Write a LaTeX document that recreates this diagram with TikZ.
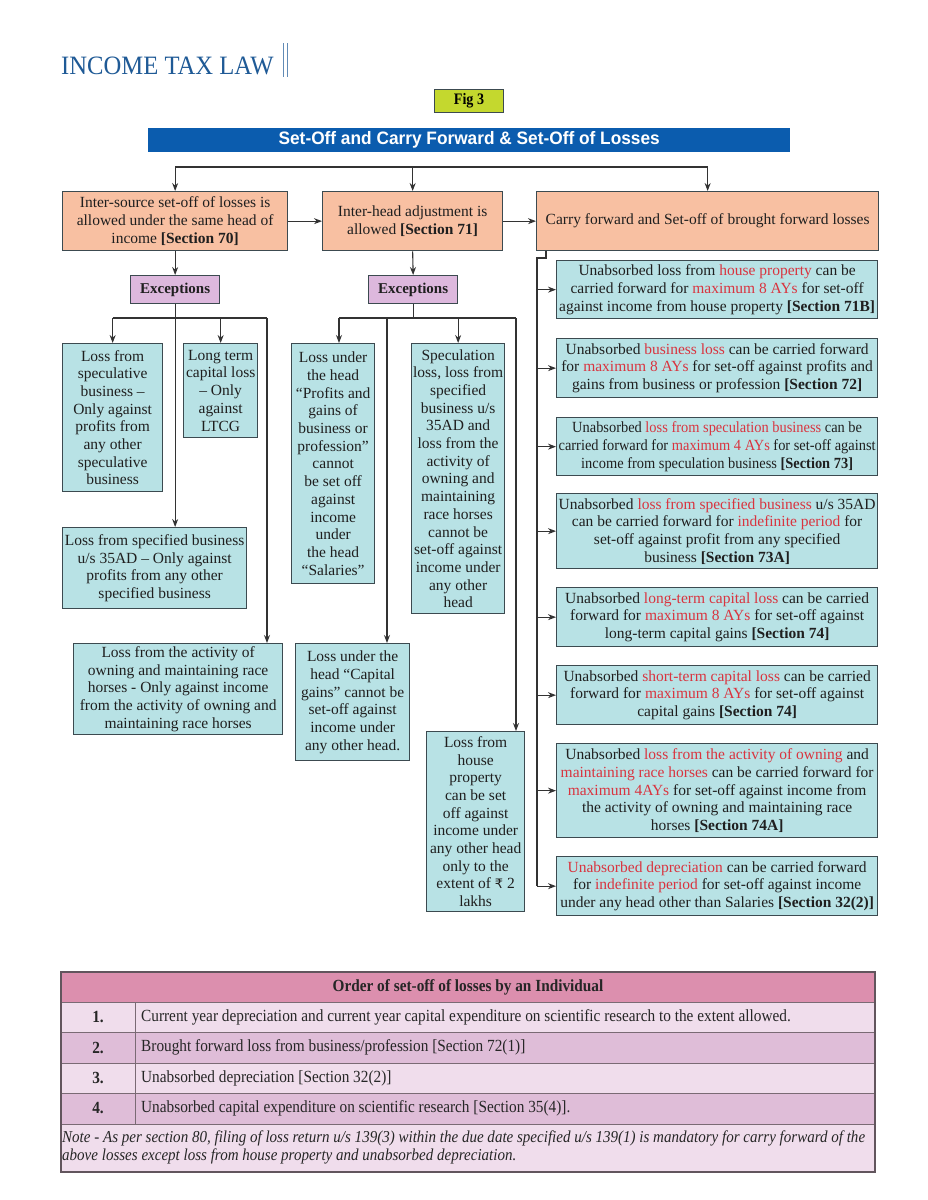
\documentclass[tikz,border=0pt]{standalone}
\usepackage{fontspec}
\setmainfont{Liberation Serif}
\newfontfamily\condsans[FakeStretch=0.96]{Liberation Sans}
\newfontfamily\condserif[FakeStretch=0.9]{Liberation Serif}
\newfontfamily\narrowserif[FakeStretch=0.93]{Liberation Serif}
\newfontfamily\figserif[FakeStretch=0.88]{Liberation Serif}
\newfontfamily\headserif[FakeStretch=0.93]{Liberation Serif}
\newfontfamily\rupeefont{DejaVu Sans}
\usetikzlibrary{arrows.meta}
\definecolor{tealbox}{HTML}{B8E2E5}
\definecolor{orangebox}{HTML}{F8C0A2}
\definecolor{lavbox}{HTML}{DDB8DD}
\definecolor{titleblue}{HTML}{0B5CAE}
\definecolor{figgreen}{HTML}{C4D82E}
\definecolor{edge}{HTML}{3C4A50}
\definecolor{hred}{HTML}{D9343F}
\definecolor{headblue}{HTML}{1F5A96}
\definecolor{tabhead}{HTML}{DC8FAE}
\definecolor{tablight}{HTML}{F0DDEC}
\definecolor{tabdark}{HTML}{DFBDD8}
\definecolor{tabline}{HTML}{7A6A74}
\newcommand\rd[1]{\textcolor{hred}{#1}}
\newcommand\bx[7]{\node[#2, anchor=north west, minimum width={(#5-#3)*1pt}, minimum height={(#6-#4)*1pt}] (#1) at (#3,#4) {#7};}
\tikzset{
  box/.style={draw=edge, line width=1.3pt, inner sep=1.5pt, align=center, text=black!88,
    font=\fontsize{15.5}{17.7}\selectfont},
  tbox/.style={box, fill=tealbox},
  obox/.style={box, fill=orangebox},
  lbox/.style={box, fill=lavbox, font=\bfseries\fontsize{15}{17}\selectfont},
  conn/.style={draw=black!80, line width=1.1pt},
  arr/.style={conn, -{Stealth[length=8pt,width=6pt]}},
  tabtext/.style={inner sep=0pt, anchor=west, text=black!85, font=\condserif\fontsize{17}{19}\selectfont},
  tabnum/.style={tabtext, anchor=center, font=\condserif\bfseries\fontsize{17}{19}\selectfont},
}
\begin{document}
\begin{tikzpicture}[x=1pt,y=-1pt]
\useasboundingbox (0,0) rectangle (927,1200);
\fill[white] (0,0) rectangle (927,1200);

% header
\node[anchor=south west, inner sep=0pt, text=headblue, font=\headserif\fontsize{26.5}{30}\selectfont] (hdr) at (61,75.5) {INCOME TAX LAW};
\draw[headblue!70, line width=0.8pt] (283,43) -- (283,77);
\draw[headblue!70, line width=0.8pt] (287,43) -- (287,77);

% fig label and title
\node[draw=edge, line width=1pt, fill=figgreen, anchor=north west, minimum width=69pt, minimum height=23pt, inner sep=0pt,
  font=\figserif\bfseries\fontsize{16}{18}\selectfont] (fig) at (434,89) {Fig 3};
\node[fill=titleblue, anchor=north west, minimum width=642pt, minimum height=24pt, inner sep=0pt, text=white,
  font=\condsans\bfseries\fontsize{18}{20}\selectfont] (title) at (148,128) {Set-Off and Carry Forward \& Set-Off of Losses};

% main boxes
\bx{A}{obox}{62}{191}{287}{250}{Inter-source set-off of losses is\\allowed under the same head of\\income \textbf{[Section 70]}}
\bx{B}{obox}{322}{191}{502}{250}{Inter-head adjustment is\\allowed \textbf{[Section 71]}}
\bx{C}{obox}{536}{191}{878}{250}{Carry forward and Set-off of brought forward losses}

\bx{E1}{lbox}{130}{275}{219}{303}{Exceptions}
\bx{E2}{lbox}{368}{275}{457}{303}{Exceptions}

\bx{L1}{tbox}{62}{343}{162}{491}{Loss from\\speculative\\business --\\Only against\\profits from\\any other\\speculative\\business}
\bx{L2}{tbox}{183}{343}{257}{437}{Long term\\capital loss\\-- Only\\against\\LTCG}
\bx{L3}{tbox}{62}{527}{246}{608}{Loss from specified business\\u/s 35AD -- Only against\\profits from any other\\specified business}
\bx{L4}{tbox}{73}{643}{282}{734}{Loss from the activity of\\owning and maintaining race\\horses - Only against income\\from the activity of owning and\\maintaining race horses}

\bx{M1}{tbox}{291}{343}{374}{583}{Loss under\\the head\\“Profits and\\gains of\\business or\\profession”\\cannot\\be set off\\against\\income\\under\\the head\\“Salaries”}
\bx{M2}{tbox}{411}{343}{504}{613}{Speculation\\loss, loss from\\specified\\business u/s\\35AD and\\loss from the\\activity of\\owning and\\maintaining\\race horses\\cannot be\\set-off against\\income under\\any other\\head}
\bx{M3}{tbox}{295}{643}{409}{760}{Loss under the\\head “Capital\\gains” cannot be\\set-off against\\income under\\any other head.}
\bx{M4}{tbox}{426}{731}{524}{911}{Loss from\\house\\property\\can be set\\off against\\income under\\any other head\\only to the\\extent of {\rupeefont\fontsize{13}{15}\selectfont ₹} 2\\lakhs}

\bx{R1}{tbox}{556}{260}{877}{318}{Unabsorbed loss from \rd{house property} can be\\carried forward for \rd{maximum 8 AYs} for set-off\\against income from house property \textbf{[Section 71B]}}
\bx{R2}{tbox}{556}{338}{877}{397}{Unabsorbed \rd{business loss} can be carried forward\\for \rd{maximum 8 AYs} for set-off against profits and\\gains from business or profession \textbf{[Section 72]}}
\bx{R3}{tbox, font=\narrowserif\fontsize{15.5}{17.7}\selectfont}{556}{417}{877}{475}{Unabsorbed \rd{loss from speculation business} can be\\carried forward for \rd{maximum 4 AYs} for set-off against\\income from speculation business \textbf{[Section 73]}}
\bx{R4}{tbox}{556}{493}{877}{568}{Unabsorbed \rd{loss from specified business} u/s 35AD\\can be carried forward for \rd{indefinite period} for\\set-off against profit from any specified\\business \textbf{[Section 73A]}}
\bx{R5}{tbox}{556}{587}{877}{646}{Unabsorbed \rd{long-term capital loss} can be carried\\forward for \rd{maximum 8 AYs} for set-off against\\long-term capital gains \textbf{[Section 74]}}
\bx{R6}{tbox}{556}{665}{877}{724}{Unabsorbed \rd{short-term capital loss} can be carried\\forward for \rd{maximum 8 AYs} for set-off against\\capital gains \textbf{[Section 74]}}
\bx{R7}{tbox}{556}{743}{877}{837}{Unabsorbed \rd{loss from the activity of owning} and\\\rd{maintaining race horses} can be carried forward for\\\rd{maximum 4AYs} for set-off against income from\\the activity of owning and maintaining race\\horses \textbf{[Section 74A]}}
\bx{R8}{tbox}{556}{856}{877}{915}{\rd{Unabsorbed depreciation} can be carried forward\\for \rd{indefinite period} for set-off against income\\under any head other than Salaries \textbf{[Section 32(2)]}}

% top connectors
\path (A.north) ++(0,-24) coordinate (topL);
\path (C.north) ++(0,-24) coordinate (topR);
\draw[conn] (topL) -- (topR);
\draw[arr] (topL) -- (A.north);
\draw[arr] (B.north |- topL) -- (B.north);
\draw[arr] (topR) -- (C.north);
\draw[arr] (A.east) -- (B.west);
\draw[arr] (B.east) -- (C.west);
\draw[arr] (A.south) -- (E1.north);
\draw[arr] (B.south) -- (E2.north);

% left exceptions
\coordinate (e1r) at (267,318);
\draw[conn] (L1.north |- e1r) -- (e1r);
\draw[arr] (L1.north |- e1r) -- (L1.north);
\draw[arr] (L2.north |- e1r) -- (L2.north);
\draw[arr] (E1.south) -- (E1.south |- L3.north);
\draw[arr] (e1r) -- (e1r |- L4.north);

% middle exceptions
\coordinate (e2r) at (516,318);
\coordinate (e2m) at (387,318);
\coordinate (e2l) at (339,318);
\draw[conn] (E2.south) -- (E2.south |- e2r);
\draw[conn] (e2l) -- (e2r);
\draw[arr] (e2l) -- (e2l |- M1.north);
\draw[arr] (M2.north |- e2r) -- (M2.north);
\draw[arr] (e2m) -- (e2m |- M3.north);
\draw[arr] (e2r) -- (e2r |- M4.north);

% right spine
\coordinate (cj) at (546,258);
\coordinate (sp) at (537,258);
\draw[conn] (cj |- C.south) -- (cj) -- (sp) -- (sp |- R8.west);
\foreach \r in {R1,R2,R3,R4,R5,R6,R7,R8}{
  \draw[arr] (sp |- \r.west) -- (\r.west);
}

% table
\fill[tabhead] (61,972) rectangle (875,1002);
\fill[tablight] (61,1002) rectangle (875,1032);
\fill[tabdark] (61,1032) rectangle (875,1063);
\fill[tablight] (61,1063) rectangle (875,1093);
\fill[tabdark] (61,1093) rectangle (875,1124);
\fill[tablight] (61,1124) rectangle (875,1172);
\foreach \yy in {1002,1032,1063,1093,1124}{
  \draw[tabline, line width=1pt] (61,\yy) -- (875,\yy);
}
\draw[tabline, line width=1pt] (135,1002) -- (135,1124);
\draw[tabline!80!black, line width=1.3pt] (61,972) rectangle (875,1172);

\node[tabnum] (th) at (468,987) {Order of set-off of losses by an Individual};
\node[tabnum] (n1) at (98,1017) {1.};
\node[tabnum] (n2) at (98,1047.5) {2.};
\node[tabnum] (n3) at (98,1078) {3.};
\node[tabnum] (n4) at (98,1108.5) {4.};
\node[tabtext] (t1) at (141,1017) {Current year depreciation and current year capital expenditure on scientific research to the extent allowed.};
\node[tabtext] (t2) at (141,1047.5) {Brought forward loss from business/profession [Section 72(1)]};
\node[tabtext] (t3) at (141,1078) {Unabsorbed depreciation [Section 32(2)]};
\node[tabtext] (t4) at (141,1108.5) {Unabsorbed capital expenditure on scientific research [Section 35(4)].};
\node[tabtext, anchor=north west, align=left, font=\condserif\itshape\fontsize{16.7}{18}\selectfont] (note) at (62,1131) {Note - As per section 80, filing of loss return u/s 139(3) within the due date specified u/s 139(1) is mandatory for carry forward of the\\above losses except loss from house property and unabsorbed depreciation.};
\end{tikzpicture}
\end{document}
